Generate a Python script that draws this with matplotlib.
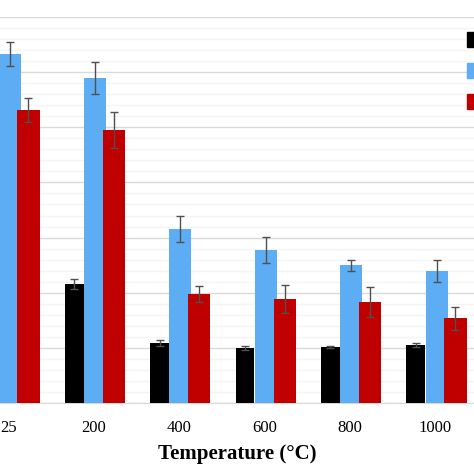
import numpy as np
import matplotlib
matplotlib.use("Agg")
import matplotlib.pyplot as plt
from matplotlib.patches import Patch

# data (first black bar is cut off in the reference)
temps = ["25", "200", "400", "600", "800", "1000"]
black_vals = [30.0, 21.6, 10.9, 10.0, 10.2, 10.5]
black_err = [1.0, 0.9, 0.55, 0.35, 0.2, 0.3]
blue_vals = [63.3, 58.9, 31.6, 27.7, 25.0, 23.9]
blue_err = [2.2, 2.9, 2.4, 2.4, 1.0, 2.0]
red_vals = [53.1, 49.5, 19.8, 18.9, 18.3, 15.4]
red_err = [2.2, 3.3, 1.4, 2.5, 2.7, 2.1]

c_black = "#000000"
c_blue = "#5DADF5"
c_red = "#C00000"
c_err = "#505050"

fig = plt.figure(figsize=(4.74, 4.74), dpi=100)
ax = fig.add_axes([0, 71/474, 1, (457-71)/474])

x = np.arange(len(temps))
ekw = dict(ecolor=c_err, elinewidth=1, capsize=3, capthick=1)
ax.bar(x - 0.34, black_vals, 0.22, align="edge", color=c_black, yerr=black_err,
       error_kw=ekw, zorder=3)
ax.bar(x - 0.117, blue_vals, 0.258, align="edge", color=c_blue, yerr=blue_err,
       error_kw=ekw, zorder=3)
ax.bar(x + 0.105, red_vals, 0.258, align="edge", color=c_red, yerr=red_err,
       error_kw=ekw, zorder=4)

# the reference is cropped on both sides
ax.set_xlim(-8.5/85.4, (474-8.5)/85.4)
ax.set_ylim(0, 70)
ax.set_yticks(np.arange(0, 71, 10))
ax.set_yticks(np.arange(0, 71, 2), minor=True)
ax.grid(axis="y", which="major", color="#d9d9d9", lw=1, zorder=0)
ax.grid(axis="y", which="minor", color="#f4f4f4", lw=1, zorder=0)
ax.tick_params(axis="y", which="both", left=False, labelleft=False)
for s in ["top", "left", "right"]:
    ax.spines[s].set_visible(False)
ax.spines["bottom"].set_color("#d9d9d9")

ax.set_xticks(x)
ax.set_xticklabels(temps, family="Liberation Serif", fontsize=12)
ax.tick_params(axis="x", length=0, pad=12)
ax.set_xlabel("Temperature (°C)", family="Liberation Serif", fontsize=15,
              fontweight="bold", labelpad=6)

handles = [Patch(color=c_black), Patch(color=c_blue), Patch(color=c_red)]
fig.legend(handles, ["", "", ""], loc="upper left", frameon=False,
           bbox_to_anchor=(467/474, 1 - 32/474), bbox_transform=fig.transFigure,
           borderpad=0, borderaxespad=0, handlelength=1.25, handleheight=1.25,
           labelspacing=1.15, fontsize=10)

fig.savefig("out.png", dpi=100)
